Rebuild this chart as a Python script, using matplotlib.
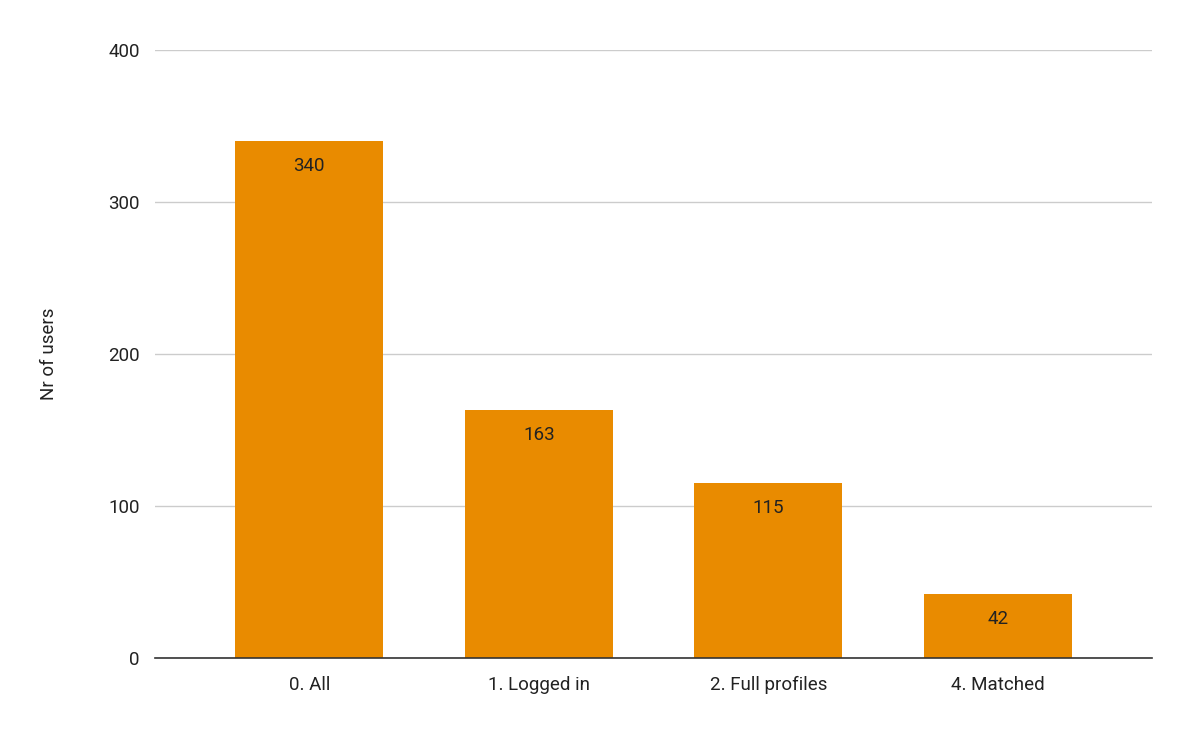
import matplotlib
matplotlib.use('Agg')
import numpy as np
from matplotlib import pyplot as plt

categories = ['0. All', '1. Logged in', '2. Full profiles', '4. Matched']
users = [340, 163, 115, 42]
yticks = [0, 100, 200, 300, 400]

plt.rcParams['font.family'] = ['Roboto', 'DejaVu Sans']

fig = plt.figure(figsize=(11.88, 7.36), dpi=100)
ax = fig.add_axes([0.1305, 0.106, 0.8392, 0.826])

x = np.arange(len(categories))
bars = ax.bar(x, users, width=0.646, color='#E98B00', zorder=3)
for xi, v in zip(x, users):
    ax.annotate(str(v), (xi, v), xytext=(0, -18), textcoords='offset points',
                ha='center', va='center', fontsize=13.5, color='#222222', zorder=4)

ax.set_xlim(-0.672, len(categories) - 1 + 0.672)
ax.set_ylim(0, 400)
ax.set_yticks(yticks)
ax.set_xticks(x)
ax.set_xticklabels(categories, fontsize=13.5, color='#222222')
ax.tick_params(axis='y', labelsize=13.5, labelcolor='#222222', length=0, pad=11)
ax.tick_params(axis='x', length=0, pad=13)
ax.grid(axis='y', color='#cccccc', lw=1.0, zorder=0)
for s in ['top', 'right', 'left']:
    ax.spines[s].set_visible(False)
ax.spines['bottom'].set_color('#333333')
ax.spines['bottom'].set_linewidth(1.2)
ax.spines['bottom'].set_zorder(5)
ax.set_ylabel('Nr of users', fontsize=13.5, color='#222222', labelpad=36)

plt.savefig('out.png', dpi=100)
